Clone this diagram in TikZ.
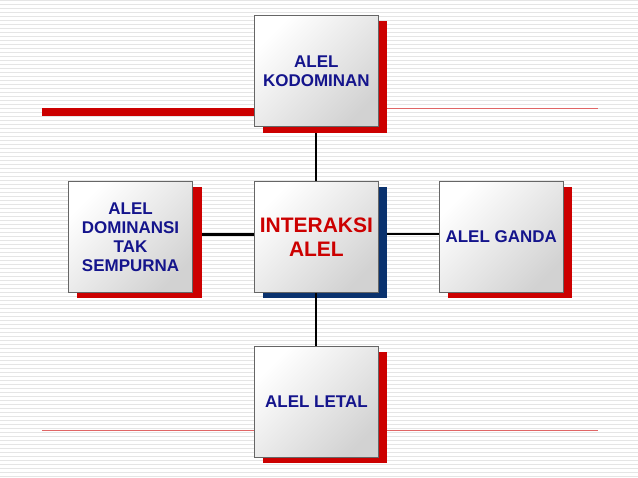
\documentclass[tikz,border=0pt]{standalone}
\usepackage{fontspec}
\setmainfont{Liberation Sans}
\definecolor{rd}{RGB}{204,0,0}
\definecolor{nv}{RGB}{10,50,110}
\definecolor{tx}{RGB}{20,20,140}
\begin{document}
\begin{tikzpicture}[x=1pt,y=-1pt,
  bx/.style={draw=gray!80!black,line width=0.8pt,minimum width=124pt,minimum height=111pt,anchor=north west,
    left color=white,right color=gray!35,shading angle=45,align=center,font=\bfseries\fontsize{17}{19}\selectfont,text=tx,inner sep=2pt},
  ln/.style={line width=2pt,black}]
\fill[white] (0,0) rectangle (638,478);
\foreach \i in {0,4,...,478} \draw[gray!20,line width=0.5pt] (0,\i) -- (638,\i);
\fill[rd] (42,108) rectangle (256,116);
\draw[rd!60,line width=0.6pt] (256,108) -- (598,108);
\draw[rd!60,line width=0.6pt] (42,430) -- (598,430);
% shadows
\fill[rd] (263,21) rectangle (387,133);
\fill[nv] (263,187) rectangle (387,298);
\fill[rd] (77,187) rectangle (202,298);
\fill[rd] (448,187) rectangle (572,298);
\fill[rd] (263,352) rectangle (387,463);
\node[bx] (t) at (254,15) {ALEL\\KODOMINAN};
\node[bx,font=\bfseries\fontsize{21}{24}\selectfont,text=rd] (c) at (254,181) {INTERAKSI\\ALEL};
\node[bx] (l) at (68,181) {ALEL\\DOMINANSI\\TAK\\SEMPURNA};
\node[bx] (r) at (439,181) {ALEL GANDA};
\node[bx] (b) at (254,346) {ALEL LETAL};
\draw[ln] (t.south |- 0,133) -- (c.north);
\draw[ln] (c.south) -- (b.north);
\draw[ln,line width=3pt] (c.west |- 0,234) -- (202,234);
\draw[ln] (387,234) -- (r.west |- 0,234);
\end{tikzpicture}
\end{document}
